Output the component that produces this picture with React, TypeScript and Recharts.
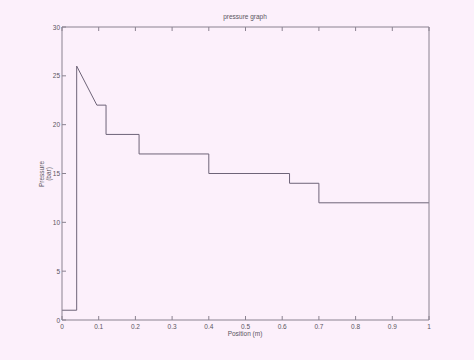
import React from "react";
import { LineChart, Line, XAxis, YAxis } from "recharts";

// step profile of pressure along the pipe
const positions = [0, 0.04, 0.04, 0.095, 0.12, 0.12, 0.21, 0.21, 0.4, 0.4, 0.62, 0.62, 0.7, 0.7, 1];
const pressures = [1, 1, 26, 22, 22, 19, 19, 17, 17, 15, 15, 14, 14, 12, 12];
const xTicks = [0, 0.1, 0.2, 0.3, 0.4, 0.5, 0.6, 0.7, 0.8, 0.9, 1];
const yTicks = [0, 5, 10, 15, 20, 25, 30];

const BG = "#fcf0fb";
const AXIS = "#8a8290";
const TEXT = "#5a5560";
const LINE = "#6e6478";
const FONT = "'Liberation Sans', Arial, sans-serif";

const data = positions.map((x, i) => ({ x, p: pressures[i] }));

interface TickArgs {
  x?: number;
  y?: number;
  payload?: { value: number };
}

function BottomTick({ x = 0, y = 0, payload }: TickArgs) {
  return (
    <g>
      <line x1={x} y1={y} x2={x} y2={y - 4} stroke={AXIS} strokeWidth={1} />
      <text x={x} y={y + 9} textAnchor="middle" fontSize={6.5} fill={TEXT} fontFamily={FONT}>
        {payload ? String(payload.value) : ""}
      </text>
    </g>
  );
}

function TopTick({ x = 0, y = 0 }: TickArgs) {
  return <line x1={x} y1={y} x2={x} y2={y + 4} stroke={AXIS} strokeWidth={1} />;
}

function LeftTick({ x = 0, y = 0, payload }: TickArgs) {
  return (
    <g>
      <line x1={x} y1={y} x2={x + 4} y2={y} stroke={AXIS} strokeWidth={1} />
      <text x={x - 2} y={y + 2.5} textAnchor="end" fontSize={6.5} fill={TEXT} fontFamily={FONT}>
        {payload ? String(payload.value) : ""}
      </text>
    </g>
  );
}

function RightTick({ x = 0, y = 0 }: TickArgs) {
  return <line x1={x} y1={y} x2={x - 4} y2={y} stroke={AXIS} strokeWidth={1} />;
}

export default function App() {
  return (
    <div
      style={{
        position: "fixed",
        left: 0,
        top: 0,
        width: 474,
        height: 360,
        backgroundColor: BG,
        fontFamily: FONT,
      }}
    >
      <div
        style={{
          position: "absolute",
          left: 0,
          width: 490,
          top: 13,
          textAlign: "center",
          fontSize: 6.5,
          color: TEXT,
        }}
      >
        pressure graph
      </div>
      <div
        style={{
          position: "absolute",
          left: 0,
          width: 490,
          top: 330,
          textAlign: "center",
          fontSize: 6.5,
          color: TEXT,
        }}
      >
        Position (m)
      </div>
      <div
        style={{
          position: "absolute",
          left: 45,
          top: 174,
          transform: "translate(-50%, -50%) rotate(-90deg)",
          textAlign: "center",
          fontSize: 6.5,
          lineHeight: "7px",
          color: TEXT,
          whiteSpace: "nowrap",
        }}
      >
        Pressure
        <br />
        (bar)
      </div>

      <LineChart
        width={474}
        height={360}
        data={data}
        margin={{ top: 26, right: 44, bottom: 39, left: 61 }}
        style={{ position: "absolute", left: 0, top: 0 }}
      >
        <XAxis
          xAxisId="bottom"
          dataKey="x"
          type="number"
          domain={[0, 1]}
          ticks={xTicks}
          interval={0}
          height={1}
          tickSize={0}
          tickMargin={0}
          stroke={AXIS}
          tick={<BottomTick />}
        />
        <XAxis
          xAxisId="top"
          orientation="top"
          dataKey="x"
          type="number"
          domain={[0, 1]}
          ticks={xTicks}
          interval={0}
          height={1}
          tickSize={0}
          tickMargin={0}
          stroke={AXIS}
          tick={<TopTick />}
        />
        <YAxis
          yAxisId="left"
          type="number"
          domain={[0, 30]}
          ticks={yTicks}
          interval={0}
          width={1}
          tickSize={0}
          tickMargin={0}
          stroke={AXIS}
          tick={<LeftTick />}
        />
        <YAxis
          yAxisId="right"
          orientation="right"
          type="number"
          domain={[0, 30]}
          ticks={yTicks}
          interval={0}
          width={1}
          tickSize={0}
          tickMargin={0}
          stroke={AXIS}
          tick={<RightTick />}
        />
        <Line
          xAxisId="bottom"
          yAxisId="left"
          type="linear"
          dataKey="p"
          stroke={LINE}
          strokeWidth={1}
          dot={false}
          isAnimationActive={false}
        />
      </LineChart>
    </div>
  );
}
